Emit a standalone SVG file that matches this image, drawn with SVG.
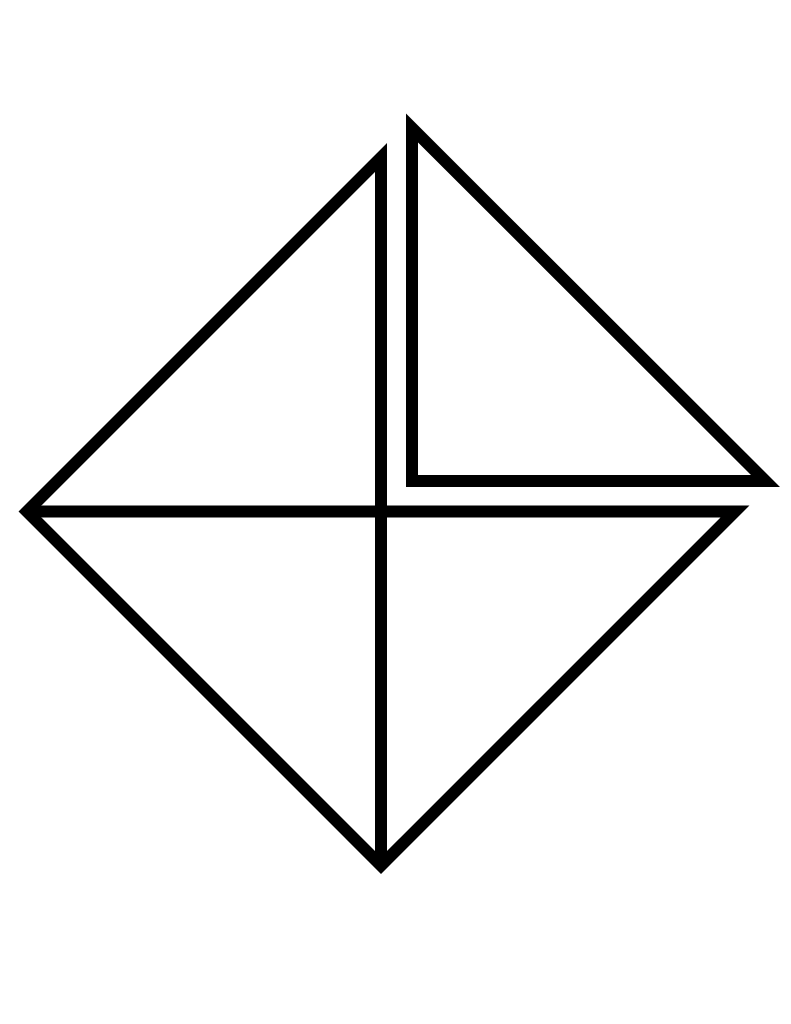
<svg xmlns="http://www.w3.org/2000/svg" width="791" height="1024" viewBox="0 0 791 1024">
<style>
.s{fill:none;stroke:#000;stroke-width:12;stroke-linejoin:miter;stroke-miterlimit:10;}
</style>
<rect width="791" height="1024" fill="#fff"/>
<g id="diamond">
<polygon class="s" points="381,157.5 27,511.5 381,865.5 735,511.5 381,511.5"/>
<line class="s" x1="27" y1="511.5" x2="381" y2="511.5"/>
<line class="s" x1="381" y1="511.5" x2="381" y2="865.5"/>
</g>
<g id="shifted-triangle">
<polygon class="s" points="412,128 412,481 765.5,481"/>
</g>
</svg>
